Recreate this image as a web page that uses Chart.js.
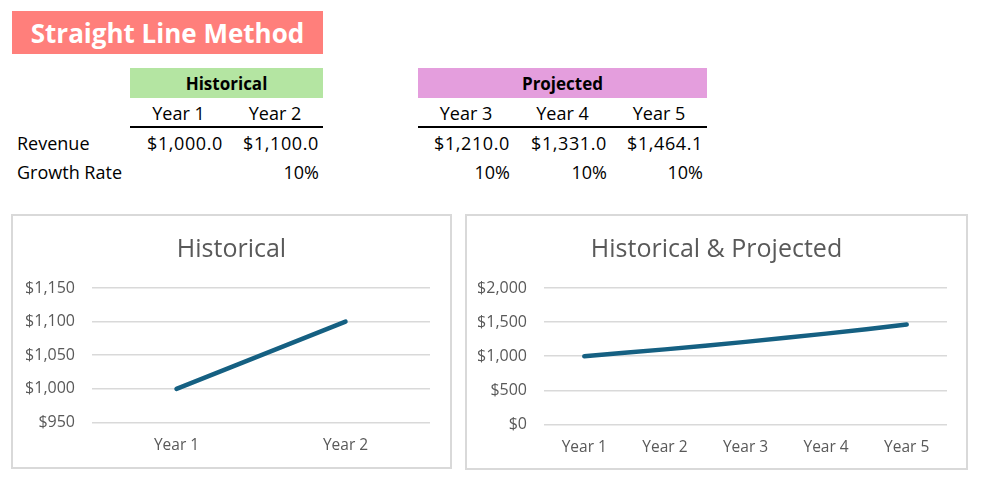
<!DOCTYPE html>
<html>
<head>
<meta charset="utf-8">
<script src="https://cdn.jsdelivr.net/npm/chart.js@4.4.1/dist/chart.umd.min.js"></script>
<style>
body { margin:0; background:#fff; width:984px; height:486px; position:relative; overflow:hidden; font-family:"Open Sans", sans-serif; }
.cell { position:absolute; font-size:18px; color:#000; line-height:24px; white-space:nowrap; }
.box { position:absolute; border:2px solid #d9d9d9; box-sizing:border-box; background:#fff; }
.box canvas { position:absolute; left:0; top:0; }
</style>
</head>
<body>
<div id="tabla"></div>
<div class="box" style="left:11px;top:214px;width:441px;height:255px;"><canvas id="graf_hist"></canvas></div>
<div class="box" style="left:465px;top:214px;width:503px;height:256px;"><canvas id="graf_proj"></canvas></div>
<script>
const years = ['Year 1', 'Year 2', 'Year 3', 'Year 4', 'Year 5'];
const revenue = [1000.0, 1100.0, 1210.0, 1331.0, 1464.1];
const growth = [null, 10, 10, 10, 10];
const histTicks = [950, 1000, 1050, 1100, 1150];
const projTicks = [0, 500, 1000, 1500, 2000];

// columnas de la tabla (borde izquierdo, borde derecho)
let columnas = [[130, 227], [227, 323], [418, 514], [514, 611], [611, 707]];
let tabla = document.getElementById("tabla");

function ponerTexto(texto, x, y, w, align, extra) {
    let d = document.createElement("div");
    d.className = "cell";
    d.textContent = texto;
    d.style.left = x + "px";
    d.style.top = (y - 12) + "px";
    d.style.width = w + "px";
    d.style.textAlign = align;
    if (extra) Object.assign(d.style, extra);
    tabla.appendChild(d);
}

function ponerCaja(x, y, w, h, color) {
    let d = document.createElement("div");
    d.style.cssText = "position:absolute;left:" + x + "px;top:" + y + "px;width:" + w + "px;height:" + h + "px;background:" + color;
    tabla.appendChild(d);
}

ponerCaja(12, 11, 311, 43, "#FF7F7B");
ponerTexto("Straight Line Method", 12, 33, 311, "center", {color: "#fff", fontWeight: "bold", fontSize: "26px", lineHeight: "24px"});
ponerCaja(130, 68, 193, 30, "#B4E5A2");
ponerTexto("Historical", 130, 84, 193, "center", {fontWeight: "bold", fontSize: "17px"});
ponerCaja(418, 68, 289, 30, "#E49EDD");
ponerTexto("Projected", 418, 84, 289, "center", {fontWeight: "bold", fontSize: "17px"});
ponerCaja(130, 126, 193, 2, "#000");
ponerCaja(418, 126, 289, 2, "#000");

ponerTexto("Revenue", 17, 143, 110, "left");
ponerTexto("Growth Rate", 17, 172, 110, "left");

years.forEach((y, i) => {
    let c = columnas[i];
    ponerTexto(y, c[0], 113, c[1] - c[0], "center");
    ponerTexto("$" + revenue[i].toLocaleString("en-US", {minimumFractionDigits: 1, maximumFractionDigits: 1}), c[0], 143, c[1] - c[0] - 4, "right", {letterSpacing: "0.6px"});
    if (growth[i] !== null) ponerTexto(growth[i] + "%", c[0], 172, c[1] - c[0] - 4, "right");
});

function dolares(v) {
    return "$" + v.toLocaleString("en-US");
}

function crearGrafica(id, w, h, etiquetas, valores, ticks, titulo, anchoEje, margenDer, abajo, suave) {
    let canvas = document.getElementById(id);
    canvas.style.width = w + "px";
    canvas.style.height = h + "px";
    canvas.width = w;
    canvas.height = h;
    return new Chart(canvas, {
        type: 'line',
        data: {
            labels: etiquetas,
            datasets: [{
                data: valores,
                borderColor: '#156082',
                borderWidth: 4.5,
                borderCapStyle: 'round',
                pointRadius: 0,
                tension: suave ? 0.35 : 0,
                fill: false
            }]
        },
        options: {
            responsive: false,
            animation: false,
            layout: { padding: { left: 0, right: 0, top: 0, bottom: abajo } },
            scales: {
                x: {
                    offset: true,
                    grid: { display: false, drawTicks: false },
                    border: { display: false },
                    ticks: { color: '#595959', font: { family: 'Open Sans', size: 15.5 }, padding: 14, maxRotation: 0 }
                },
                y: {
                    min: ticks[0],
                    max: ticks[ticks.length - 1],
                    afterBuildTicks: (scale) => { scale.ticks = ticks.map(v => ({ value: v })); },
                    afterFit: (scale) => { scale.width = anchoEje; },
                    grid: { color: '#d9d9d9', lineWidth: 1.5, drawTicks: false },
                    border: { display: false },
                    ticks: { color: '#595959', font: { family: 'Open Sans', size: 16 }, padding: 17, callback: (v) => dolares(v) }
                },
                // eje vacio a la derecha, solo para dejar el margen y el titulo centrado
                derecha: {
                    position: 'right',
                    grid: { display: false, drawTicks: false },
                    border: { display: false },
                    ticks: { display: false },
                    afterFit: (scale) => { scale.width = margenDer; }
                }
            },
            plugins: {
                legend: { display: false },
                tooltip: { enabled: false },
                title: {
                    display: true,
                    text: titulo,
                    color: '#595959',
                    font: { family: 'Open Sans', size: 25, weight: 'normal' },
                    padding: { top: 19, bottom: 23 }
                }
            }
        }
    });
}

crearGrafica("graf_hist", 437, 251, years.slice(0, 2), revenue.slice(0, 2), histTicks, "Historical", 79, 20, -2, false);
crearGrafica("graf_proj", 499, 252, years, revenue, projTicks, "Historical & Projected", 77, 19, -3, true);
</script>
</body>
</html>
